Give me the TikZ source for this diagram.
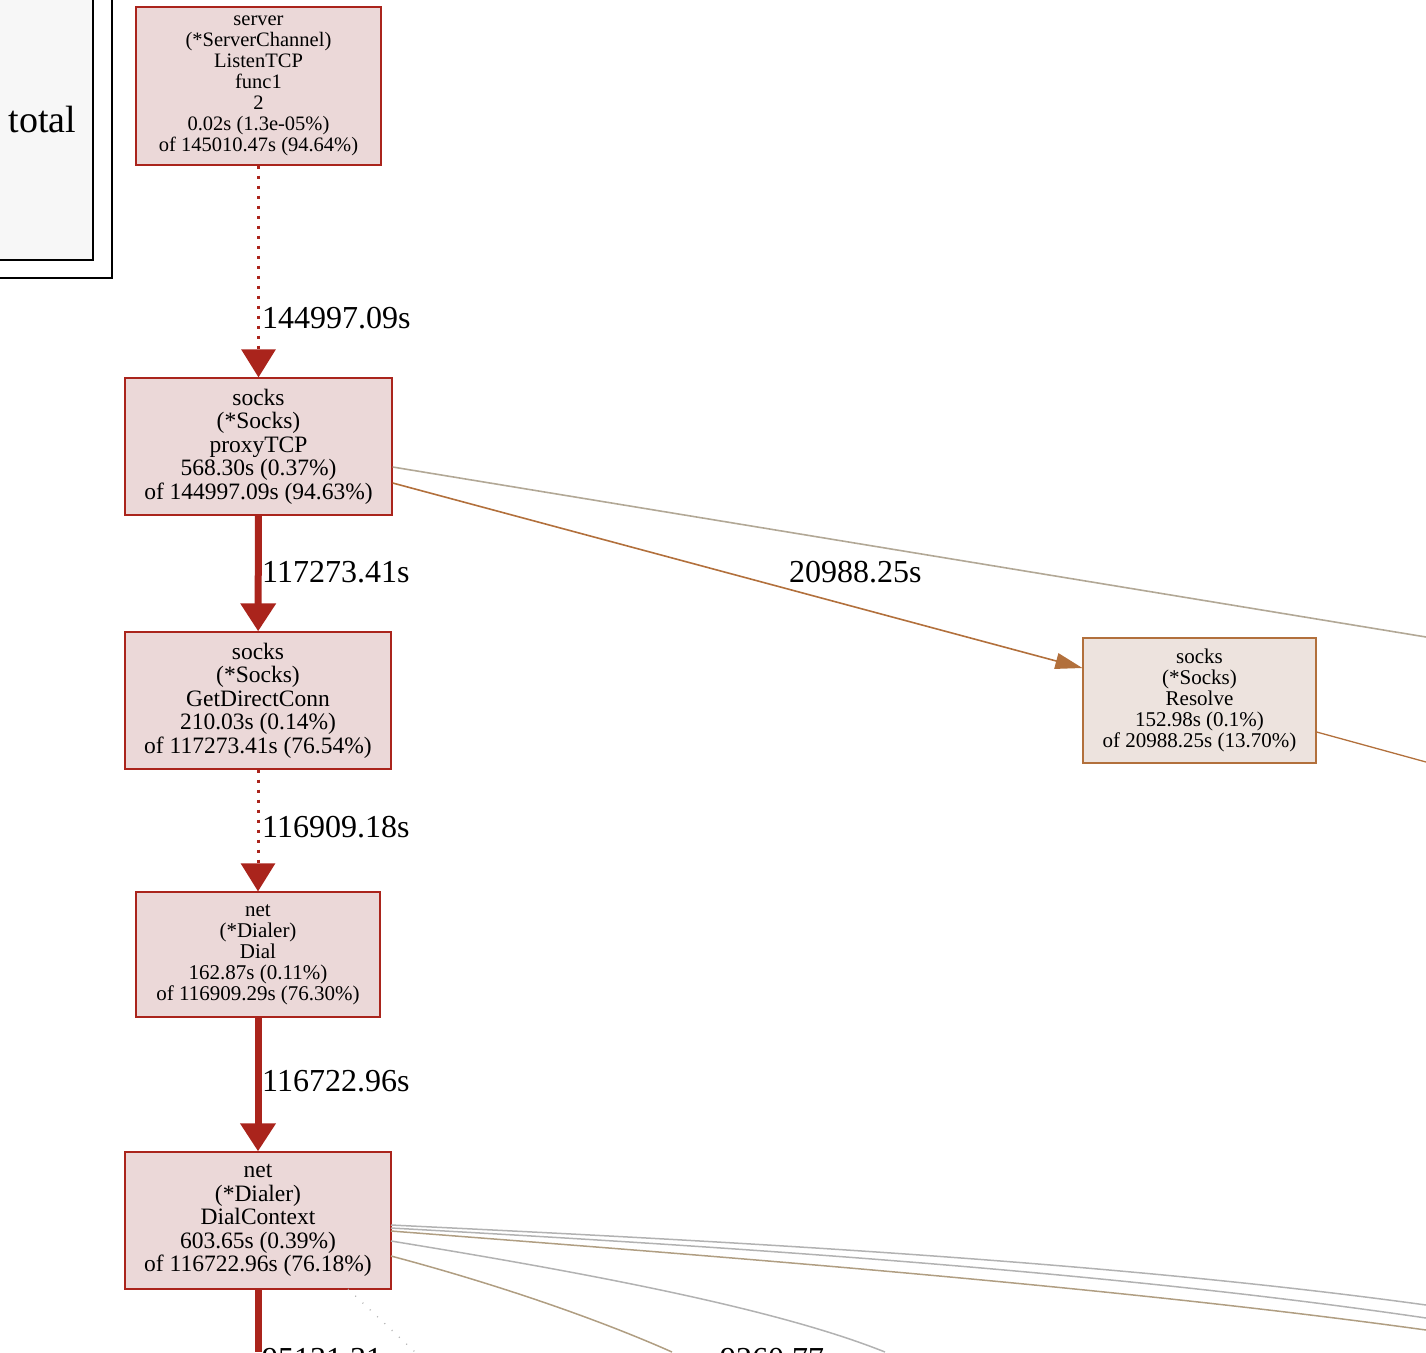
\documentclass[tikz,border=0pt]{standalone}
\usepackage{fontspec}
\setmainfont{Liberation Serif}
\usetikzlibrary{arrows.meta}
\definecolor{hot}{RGB}{170,36,28}
\definecolor{hotfill}{RGB}{235,216,216}
\definecolor{warm}{RGB}{178,112,60}
\definecolor{warmfill}{RGB}{237,227,222}
\definecolor{tan}{RGB}{176,158,130}
\definecolor{grayedge}{RGB}{178,178,178}
\definecolor{grtan}{RGB}{178,168,150}
\tikzset{
 fn/.style={draw=hot,fill=hotfill,line width=1.3pt,align=center,inner sep=0pt,font=\fontsize{20.5}{21}\selectfont},
 fnb/.style={fn,font=\fontsize{23.5}{23.5}\selectfont},
 lbl/.style={font=\fontsize{32}{34}\selectfont,anchor=west,inner sep=0pt},
 tip/.style={-{Triangle[length=28pt,width=34pt]}},
 dotted edge/.style={hot,line width=3pt,dash pattern=on 3pt off 7pt,tip},
}
\begin{document}
\begin{tikzpicture}[x=1pt,y=-1pt]
\useasboundingbox (0,0) rectangle (1426,1352);
\clip (0,0) rectangle (1426,1352);
% total
\draw[line width=1.3pt] (-20,-20) rectangle (112,278);
\draw[line width=1.3pt,fill=black!3] (-20,-20) rectangle (93,260);
\node[font=\fontsize{38}{40}\selectfont,anchor=west] (total) at (5,119) {total};
% nodes
\node[fn,minimum width=245pt,minimum height=158pt] (srv) at (258.5,86) {server\\(*ServerChannel)\\ListenTCP\\func1\\2\\0.02s (1.3e-05\%)\\of 145010.47s (94.64\%)};
\node[fnb,minimum width=267pt,minimum height=137pt] (ptcp) at (258.5,446.5) {socks\\(*Socks)\\proxyTCP\\568.30s (0.37\%)\\of 144997.09s (94.63\%)};
\node[fnb,minimum width=266pt,minimum height=137pt] (gdc) at (258,700.5) {socks\\(*Socks)\\GetDirectConn\\210.03s (0.14\%)\\of 117273.41s (76.54\%)};
\node[fn,font=\fontsize{21}{21}\selectfont,minimum width=244pt,minimum height=125pt] (dial) at (258,954.5) {net\\(*Dialer)\\Dial\\162.87s (0.11\%)\\of 116909.29s (76.30\%)};
\node[fnb,minimum width=266pt,minimum height=137pt] (dctx) at (258,1220.5) {net\\(*Dialer)\\DialContext\\603.65s (0.39\%)\\of 116722.96s (76.18\%)};
\node[fn,draw=warm,fill=warmfill,font=\fontsize{21}{21}\selectfont,minimum width=233pt,minimum height=125pt] (res) at (1199.5,700.5) {socks\\(*Socks)\\Resolve\\152.98s (0.1\%)\\of 20988.25s (13.70\%)};
\coordinate (e1) at (1426,637);
\coordinate (e2) at (1426,762);
\coordinate (b0) at (258,1352);
% edges
\draw[dotted edge] (srv) -- (ptcp);
\node[lbl] (l1) at (262,318) {144997.09s};
\draw[hot,line width=7pt,tip] (ptcp) -- (gdc);
\node[lbl] (l2) at (262,572) {117273.41s};
\draw[dotted edge] (gdc) -- (dial);
\node[lbl] (l3) at (262,827) {116909.18s};
\draw[hot,line width=7pt,tip] (dial) -- (dctx);
\node[lbl] (l4) at (262,1081) {116722.96s};
\draw[hot,line width=7pt] (dctx) -- (b0);
\node[lbl] (l5) at (262,1359) {95131.31s};
\draw[warm,line width=1.6pt,-{Triangle[length=27pt,width=16pt]}] (ptcp.east |- 0,483) -- (res.west |- 0,668);
\node[lbl] (l6) at (789,572) {20988.25s};
\draw[grtan,line width=1.6pt] (ptcp.east |- 0,467) -- (e1);
\draw[warm,line width=1.3pt] (res.east |- 0,732) -- (e2);
\draw[grayedge,line width=1.5pt] (391,1225) .. controls (700,1240) and (1100,1260) .. (1426,1305);
\draw[grayedge,line width=1.5pt] (391,1228) .. controls (700,1245) and (1100,1270) .. (1426,1318);
\draw[tan,line width=1.5pt] (391,1231) .. controls (700,1255) and (1100,1285) .. (1426,1330);
\draw[grayedge,line width=1.5pt] (391,1241) .. controls (600,1275) and (780,1310) .. (885,1352);
\draw[tan,line width=1.5pt] (391,1256) .. controls (500,1285) and (600,1320) .. (672,1352);
\draw[grayedge,line width=1.3pt,dash pattern=on 1pt off 9pt] (348,1289) -- (415,1352);
\node[lbl] (l7) at (720,1359) {9260.77s};
\end{tikzpicture}
\end{document}
